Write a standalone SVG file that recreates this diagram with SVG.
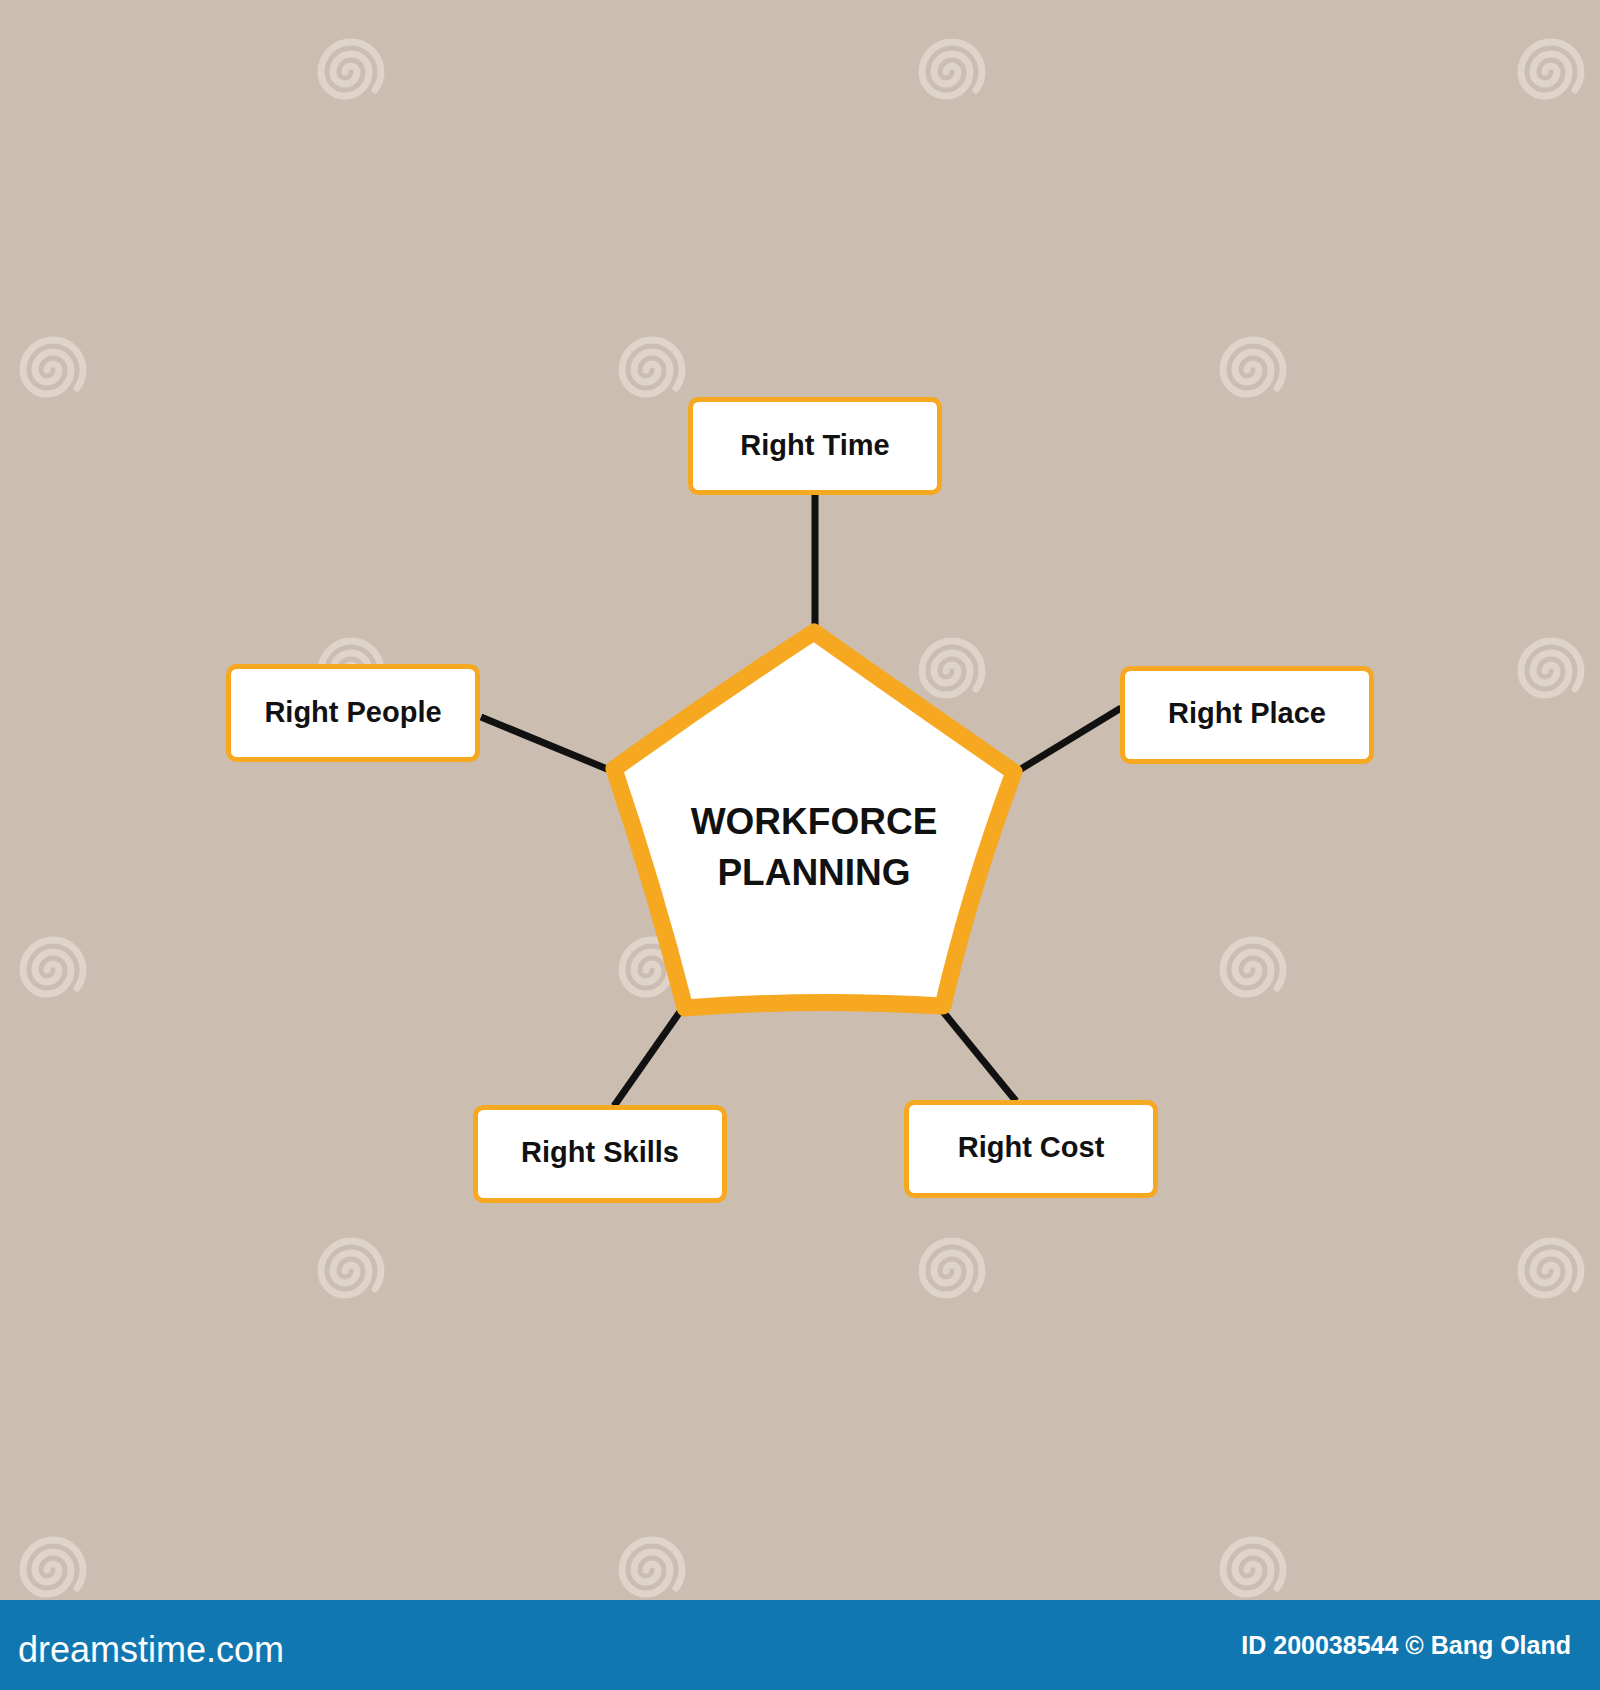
<svg xmlns="http://www.w3.org/2000/svg" xmlns:xlink="http://www.w3.org/1999/xlink" width="1600" height="1690" viewBox="0 0 1600 1690">
  <style>
    .box { fill: #ffffff; stroke: #f6a821; stroke-width: 5; }
    .lbl { font-family: "Liberation Sans", Arial, sans-serif; font-weight: bold; font-size: 29px; fill: #111111; text-anchor: middle; }
    .title { font-family: "Liberation Sans", Arial, sans-serif; font-weight: bold; font-size: 37px; fill: #111111; text-anchor: middle; }
    .conn { stroke: #111111; stroke-width: 7; stroke-linecap: butt; fill: none; }
    .wm { fill: none; stroke: #e2dad1; stroke-width: 7; opacity: 0.8; stroke-linecap: round; }
    .foot { font-family: "Liberation Sans", Arial, sans-serif; fill: #ffffff; }
  </style>
  <defs>
    <g id="spiral">
      <path class="wm" d="M -3 0 A 6 6 0 0 1 9 0 A 12 12 0 0 1 -15 0 A 18 18 0 0 1 21 0 A 24 24 0 0 1 -27 0 A 30 30 0 0 1 33 0 A 30 30 0 0 1 27 18"/>
    </g>
  </defs>

  <rect x="0" y="0" width="1600" height="1690" fill="#cbbdb0"/>

  <g id="watermarks">
    <use xlink:href="#spiral" x="348" y="72"/>
    <use xlink:href="#spiral" x="949" y="72"/>
    <use xlink:href="#spiral" x="1548" y="72"/>
    <use xlink:href="#spiral" x="50" y="370"/>
    <use xlink:href="#spiral" x="649" y="370"/>
    <use xlink:href="#spiral" x="1250" y="370"/>
    <use xlink:href="#spiral" x="348" y="671"/>
    <use xlink:href="#spiral" x="949" y="671"/>
    <use xlink:href="#spiral" x="1548" y="671"/>
    <use xlink:href="#spiral" x="50" y="970"/>
    <use xlink:href="#spiral" x="649" y="970"/>
    <use xlink:href="#spiral" x="1250" y="970"/>
    <use xlink:href="#spiral" x="348" y="1271"/>
    <use xlink:href="#spiral" x="949" y="1271"/>
    <use xlink:href="#spiral" x="1548" y="1271"/>
    <use xlink:href="#spiral" x="50" y="1570"/>
    <use xlink:href="#spiral" x="649" y="1570"/>
    <use xlink:href="#spiral" x="1250" y="1570"/>
  </g>

  <g id="connectors">
    <line class="conn" x1="815" y1="494" x2="815" y2="630"/>
    <line class="conn" x1="481" y1="717" x2="612" y2="771"/>
    <line class="conn" x1="1016" y1="772" x2="1121" y2="708"/>
    <line class="conn" x1="684" y1="1006" x2="614" y2="1106"/>
    <line class="conn" x1="940" y1="1008" x2="1016" y2="1101"/>
  </g>

  <g id="center">
    <path d="M 814 632 Q 910 700 1014 772 Q 970 890 943 1006 Q 815 998 685 1008 Q 655 890 614 769 Q 710 700 814 632 Z" fill="#ffffff" stroke="#f6a821" stroke-width="17" stroke-linejoin="round"/>
    <text class="title" x="814" y="834">WORKFORCE</text>
    <text class="title" x="814" y="885">PLANNING</text>
  </g>

  <g id="node-time">
    <rect class="box" x="690.5" y="399.5" width="249" height="93" rx="8"/>
    <text class="lbl" x="815" y="455">Right Time</text>
  </g>

  <g id="node-people">
    <rect class="box" x="228.5" y="666.5" width="249" height="93" rx="8"/>
    <text class="lbl" x="353" y="722">Right People</text>
  </g>

  <g id="node-place">
    <rect class="box" x="1122.5" y="668.5" width="249" height="93" rx="8"/>
    <text class="lbl" x="1247" y="723">Right Place</text>
  </g>

  <g id="node-skills">
    <rect class="box" x="475.5" y="1107.5" width="249" height="93" rx="8"/>
    <text class="lbl" x="600" y="1162">Right Skills</text>
  </g>

  <g id="node-cost">
    <rect class="box" x="906.5" y="1102.5" width="249" height="93" rx="8"/>
    <text class="lbl" x="1031" y="1157">Right Cost</text>
  </g>

  <g id="footer">
    <rect x="0" y="1600" width="1600" height="90" fill="#1077b0"/>
    <text class="foot" x="18" y="1662" font-size="36">dreamstime.com</text>
    <text class="foot" x="1571" y="1654" font-size="25" font-weight="bold" text-anchor="end">ID 200038544 © Bang Oland</text>
  </g>
</svg>
